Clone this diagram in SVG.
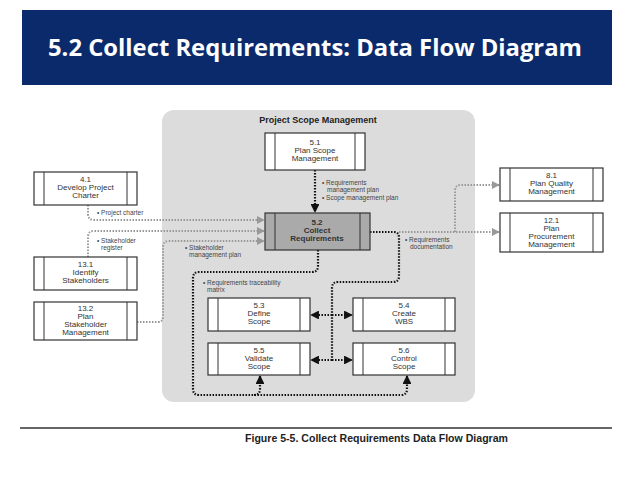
<svg xmlns="http://www.w3.org/2000/svg" width="638" height="479" viewBox="0 0 638 479">
<style>
.t{font-family:"Liberation Sans",Arial,sans-serif;font-size:8px;fill:#333;text-anchor:middle}
.l{font-family:"Liberation Sans",Arial,sans-serif;font-size:6.5px;fill:#444}
.bx{fill:#fff;stroke:#333;stroke-width:1.2}
.in{stroke:#333;stroke-width:1}
.k{fill:none;stroke:#111;stroke-width:2.2;stroke-dasharray:1.5 1.5}
.g{fill:none;stroke:#999;stroke-width:2;stroke-dasharray:1.5 1.5}
</style>
<defs>
<marker id="ak" viewBox="0 0 10 10" refX="9" refY="5" markerWidth="4" markerHeight="4" orient="auto"><path d="M0,0L10,5L0,10z" fill="#111"/></marker>
<marker id="ag" viewBox="0 0 10 10" refX="9" refY="5" markerWidth="4" markerHeight="4" orient="auto"><path d="M0,0L10,5L0,10z" fill="#999"/></marker>
</defs>
<rect width="638" height="479" fill="#fff"/>
<rect x="22" y="10" width="590" height="75" fill="#0b2a6b"/>
<text x="48" y="56" font-family="'Open Sans','Liberation Sans',sans-serif" font-weight="bold" font-size="23.8" fill="#fff">5.2 Collect Requirements: Data Flow Diagram</text>
<rect x="162" y="110" width="313" height="292" rx="12" fill="#dcdcdc"/>
<text x="318" y="123" font-family="'Liberation Sans',Arial,sans-serif" font-weight="bold" font-size="9" fill="#222" text-anchor="middle">Project Scope Management</text>
<g id="connectors">
<path class="k" d="M315,170V212" marker-end="url(#ak)"/>
<path class="g" d="M88,205V214Q88,220 94,220H264" marker-end="url(#ag)"/>
<path class="g" d="M88,257V237Q88,231 94,231H264" marker-end="url(#ag)"/>
<path class="g" d="M137,322H158Q163,322 163,316V247Q163,241 169,241H264" marker-end="url(#ag)"/>
<path class="k" d="M370,232H394Q399,232 399,238V276Q399,282 393,282H338Q332,282 332,288V360"/>
<path class="k" d="M332,315H311" marker-end="url(#ak)"/>
<path class="k" d="M332,315H352" marker-end="url(#ak)"/>
<path class="k" d="M332,360H311" marker-end="url(#ak)"/>
<path class="k" d="M332,360H352" marker-end="url(#ak)"/>
<path class="g" d="M399,232H499" marker-end="url(#ag)"/>
<path class="g" d="M455,232V191Q455,185 461,185H499" marker-end="url(#ag)"/>
<path class="k" d="M318,250V266Q318,272 312,272H199Q193,272 193,278V389Q193,395 199,395H401Q407,395 407,389V376" marker-end="url(#ak)"/>
<path class="k" d="M254,395Q260,395 260,389V376" marker-end="url(#ak)"/>
</g>
<g class="l">
<text x="322" y="185">• Requirements</text><text x="327" y="192">management plan</text>
<text x="322" y="200">• Scope management plan</text>
<text x="97" y="215">• Project charter</text>
<text x="97" y="243">• Stakeholder</text><text x="101" y="250">register</text>
<text x="185" y="250">• Stakeholder</text><text x="189" y="257">management plan</text>
<text x="405" y="242">• Requirements</text><text x="410" y="249">documentation</text>
<text x="203" y="285">• Requirements traceability</text><text x="207" y="292">matrix</text>
</g>
<g id="n41"><rect class="bx" x="34" y="172" width="103" height="33"/><path class="in" d="M44,172V205M127,172V205"/><text class="t" x="85.5" y="182">4.1</text><text class="t" x="85.5" y="190">Develop Project</text><text class="t" x="85.5" y="198">Charter</text></g>
<g id="n131"><rect class="bx" x="34" y="257" width="103" height="33"/><path class="in" d="M44,257V290M127,257V290"/><text class="t" x="85.5" y="267">13.1</text><text class="t" x="85.5" y="275">Identify</text><text class="t" x="85.5" y="283">Stakeholders</text></g>
<g id="n132"><rect class="bx" x="34" y="302" width="103" height="38"/><path class="in" d="M44,302V340M127,302V340"/><text class="t" x="85.5" y="311">13.2</text><text class="t" x="85.5" y="319">Plan</text><text class="t" x="85.5" y="327">Stakeholder</text><text class="t" x="85.5" y="335">Management</text></g>
<g id="n51"><rect class="bx" x="265" y="133" width="100" height="37"/><path class="in" d="M275,133V170M355,133V170"/><text class="t" x="315" y="145">5.1</text><text class="t" x="315" y="153">Plan Scope</text><text class="t" x="315" y="161">Management</text></g>
<g id="n52"><rect x="265" y="213" width="105" height="37" fill="#aaa" stroke="#333" stroke-width="1.2"/><path class="in" d="M275,213V250M360,213V250"/><text class="t" x="317" y="225" font-weight="bold">5.2</text><text class="t" x="317" y="233" font-weight="bold">Collect</text><text class="t" x="317" y="241" font-weight="bold">Requirements</text></g>
<g id="n53"><rect class="bx" x="208" y="298" width="102" height="33"/><path class="in" d="M218,298V331M300,298V331"/><text class="t" x="259" y="308">5.3</text><text class="t" x="259" y="316">Define</text><text class="t" x="259" y="324">Scope</text></g>
<g id="n54"><rect class="bx" x="353" y="298" width="102" height="33"/><path class="in" d="M363,298V331M445,298V331"/><text class="t" x="404" y="308">5.4</text><text class="t" x="404" y="316">Create</text><text class="t" x="404" y="324">WBS</text></g>
<g id="n55"><rect class="bx" x="208" y="343" width="102" height="32"/><path class="in" d="M218,343V375M300,343V375"/><text class="t" x="259" y="353">5.5</text><text class="t" x="259" y="361">Validate</text><text class="t" x="259" y="369">Scope</text></g>
<g id="n56"><rect class="bx" x="353" y="343" width="102" height="32"/><path class="in" d="M363,343V375M445,343V375"/><text class="t" x="404" y="353">5.6</text><text class="t" x="404" y="361">Control</text><text class="t" x="404" y="369">Scope</text></g>
<g id="n81"><rect class="bx" x="500" y="168" width="103" height="33"/><path class="in" d="M510,168V201M593,168V201"/><text class="t" x="551.5" y="178">8.1</text><text class="t" x="551.5" y="186">Plan Quality</text><text class="t" x="551.5" y="194">Management</text></g>
<g id="n121"><rect class="bx" x="500" y="213" width="103" height="39"/><path class="in" d="M510,213V252M593,213V252"/><text class="t" x="551.5" y="223">12.1</text><text class="t" x="551.5" y="231">Plan</text><text class="t" x="551.5" y="239">Procurement</text><text class="t" x="551.5" y="247">Management</text></g>
<line x1="20" y1="428" x2="612" y2="428" stroke="#333" stroke-width="1.5"/>
<text x="245" y="442" font-family="'Liberation Sans',Arial,sans-serif" font-weight="bold" font-size="11" fill="#222" textLength="263" lengthAdjust="spacingAndGlyphs">Figure 5-5. Collect Requirements Data Flow Diagram</text>
</svg>
